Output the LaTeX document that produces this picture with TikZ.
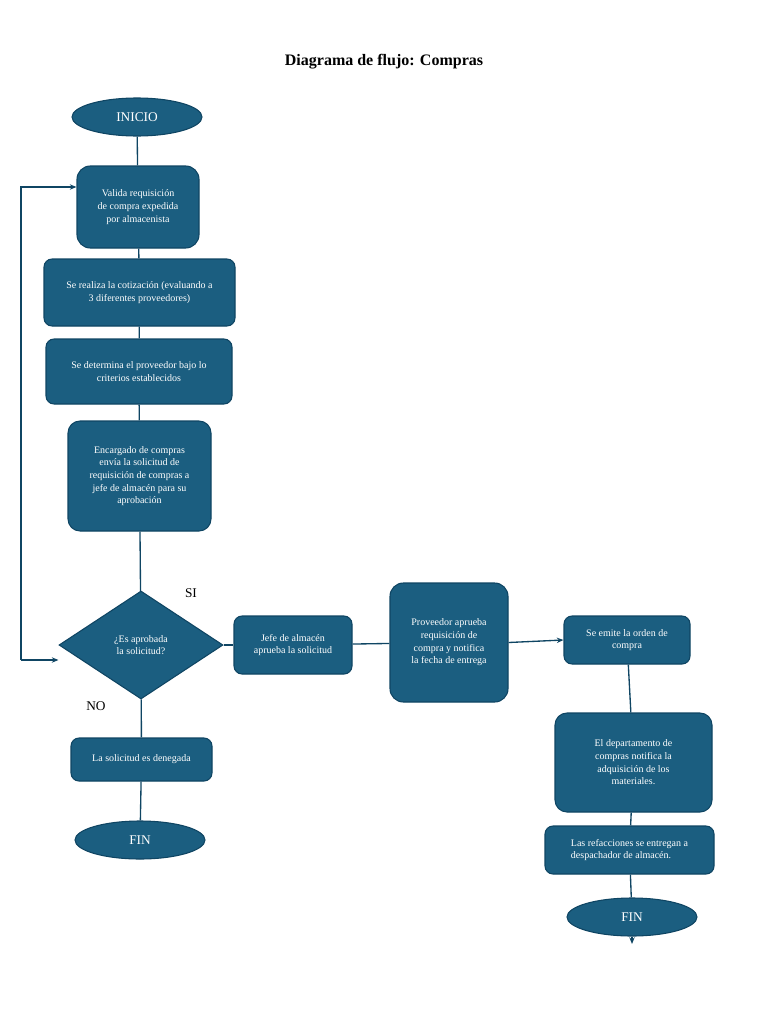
\documentclass[tikz,border=0pt]{standalone}
\usepackage{fontspec}
\setmainfont{Liberation Serif}
\usetikzlibrary{shapes.geometric,arrows.meta}
\definecolor{fill}{HTML}{1B5E80}
\definecolor{edge}{HTML}{0F4563}
\begin{document}
\begin{tikzpicture}[x=0.75pt,y=-0.75pt,
 box/.style={draw=edge,fill=fill,rounded corners=6pt,text=white,align=center,font=\fontsize{7.5}{9.5}\selectfont,inner sep=2pt,line width=0.8pt},
 ell/.style={draw=edge,fill=fill,ellipse,text=white,font=\fontsize{10}{12}\selectfont,line width=0.8pt},
 ln/.style={draw=edge,line width=1pt},
 arr/.style={ln,-{Stealth[length=5pt,width=4pt]}}]
\useasboundingbox (0,0) rectangle (768,1024);
\node[font=\bfseries\fontsize{12}{14}\selectfont] (t) at (384,62) {Diagrama de flujo: Compras};
\node[ell,minimum width=130*0.75pt,minimum height=38*0.75pt] (ini) at (137,117) {INICIO};
\node[box,rounded corners=10pt,minimum width=122*0.75pt,minimum height=82*0.75pt] (b1) at (138,207) {Valida requisición\\de compra expedida\\por almacenista};
\node[box,minimum width=191*0.75pt,minimum height=67*0.75pt] (b2) at (139.5,292.5) {Se realiza la cotización (evaluando a\\3 diferentes proveedores)};
\node[box,minimum width=186*0.75pt,minimum height=65*0.75pt] (b3) at (139,371.5) {Se determina el proveedor bajo lo\\criterios establecidos};
\node[box,rounded corners=9pt,minimum width=143*0.75pt,minimum height=110*0.75pt] (b4) at (139.5,476) {Encargado de compras\\envía la solicitud de\\requisición de compras a\\jefe de almacén para su\\aprobación};
\node[diamond,draw=edge,fill=fill,text=white,font=\fontsize{7.5}{9.5}\selectfont,align=center,minimum width=164*0.75pt,minimum height=108*0.75pt,inner sep=0pt,line width=0.8pt] (d) at (141,645) {¿Es aprobada\\la solicitud?};
\node[font=\fontsize{10}{12}\selectfont] (si) at (191,593) {SI};
\node[font=\fontsize{10}{12}\selectfont] (no) at (96,706) {NO};
\node[box,minimum width=118*0.75pt,minimum height=58*0.75pt] (j) at (293,645) {Jefe de almacén\\aprueba la solicitud};
\node[box,rounded corners=10pt,minimum width=118*0.75pt,minimum height=119*0.75pt] (p) at (449,642.5) {Proveedor aprueba\\requisición de\\compra y notifica\\la fecha de entrega};
\node[box,minimum width=126*0.75pt,minimum height=48*0.75pt] (e) at (627,640) {Se emite la orden de\\compra};
\node[box,rounded corners=9pt,minimum width=157*0.75pt,minimum height=99*0.75pt] (dep) at (633.5,762.5) {El departamento de\\compras notifica la\\adquisición de los\\materiales.};
\node[box,minimum width=169*0.75pt,minimum height=48*0.75pt,align=left] (r) at (629.5,850) {Las refacciones se entregan a\\despachador de almacén.};
\node[ell,minimum width=130*0.75pt,minimum height=38*0.75pt] (f2) at (632,917) {FIN};
\node[box,minimum width=141*0.75pt,minimum height=43*0.75pt] (den) at (141.5,759.5) {La solicitud es denegada};
\node[ell,minimum width=130*0.75pt,minimum height=38*0.75pt] (f1) at (140,840) {FIN};
\coordinate (c1) at (21,187);
\coordinate (c2) at (21,660);
\coordinate (c3) at (632,944);
\draw[ln] (ini) -- (b1);
\draw[ln] (b1) -- (b2);
\draw[ln] (b2) -- (b3);
\draw[ln] (b3) -- (b4);
\draw[ln] (b4) -- (d);
\draw[ln] (d) -- (j);
\draw[ln] (j) -- (p);
\draw[arr] (p.east) -- (e.west);
\draw[ln] (e) -- (dep);
\draw[ln] (dep) -- (r);
\draw[ln] (r) -- (f2);
\draw[arr] (f2) -- (c3);
\draw[ln] (d) -- (den);
\draw[ln] (den) -- (f1);
\draw[arr] (c2) -- (c2 -| d.west);
\draw[arr] (c2) -- (c1) -- (c1 -| b1.west);
\end{tikzpicture}
\end{document}
